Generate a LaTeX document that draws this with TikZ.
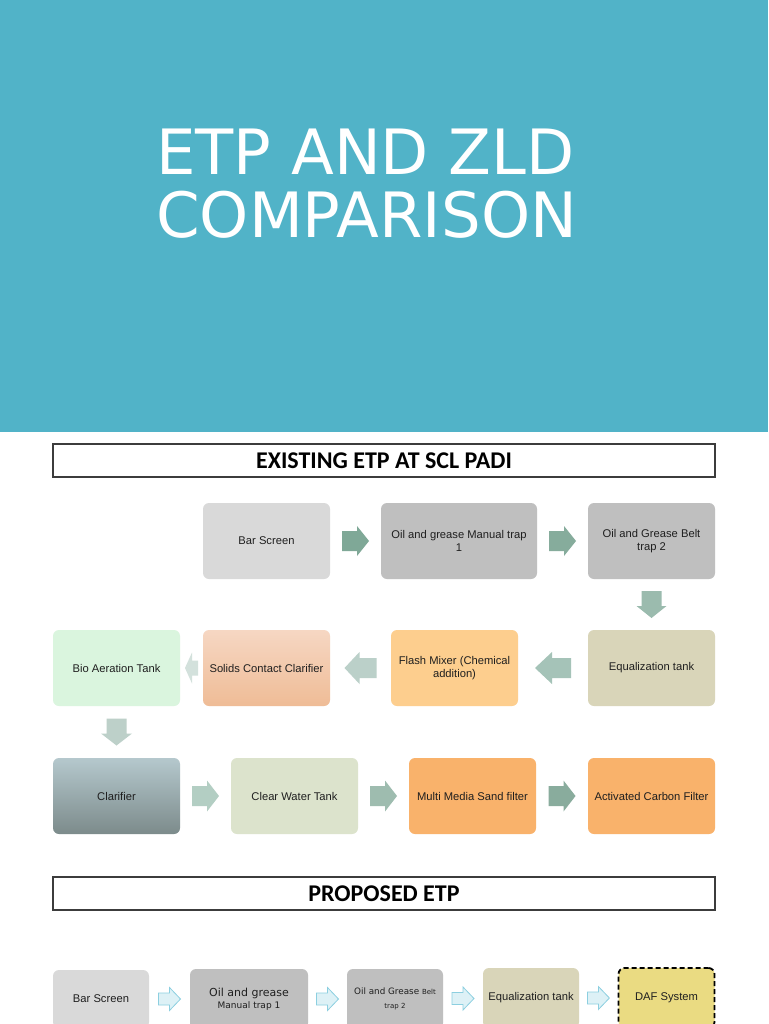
\documentclass[tikz,border=0pt]{standalone}
\usepackage{fontspec}
\setmainfont{Liberation Sans}
\newfontfamily\titlefont{DejaVu Sans}
\newfontfamily\headfont{Carlito}
\usetikzlibrary{calc}
\definecolor{teal1}{HTML}{51B3C8}
\definecolor{gA}{HTML}{D9D9D9}
\definecolor{gB}{HTML}{BFBFBF}
\definecolor{eqc}{HTML}{D9D5B9}
\definecolor{bioc}{HTML}{DAF5DE}
\definecolor{flashc}{HTML}{FDCE8E}
\definecolor{solT}{HTML}{F6D7C3}
\definecolor{solB}{HTML}{EFBC96}
\definecolor{clT}{HTML}{B5C8CD}
\definecolor{clB}{HTML}{7C8B8B}
\definecolor{clearc}{HTML}{DCE3CC}
\definecolor{orc}{HTML}{F9B26B}
\definecolor{dafc}{HTML}{EADB82}
\definecolor{aA}{HTML}{7FA897}
\definecolor{aB}{HTML}{86AC9C}
\definecolor{aC}{HTML}{9BBBAE}
\definecolor{aD}{HTML}{A5C3B8}
\definecolor{aE}{HTML}{BBD0C9}
\definecolor{aF}{HTML}{D3E1DC}
\definecolor{aG}{HTML}{BDD0C9}
\definecolor{aH}{HTML}{B3CEC3}
\definecolor{aI}{HTML}{9EBCAF}
\definecolor{aJ}{HTML}{89AC9D}
\definecolor{blueline}{HTML}{8CCFE0}
\definecolor{bluefill}{HTML}{DDF1F6}
\definecolor{hdline}{HTML}{3C3C3C}
\tikzset{
  box/.style={rounded corners=6pt, minimum height=76pt, minimum width=127pt, inner sep=2pt, align=center,
    font=\fontsize{11.2}{12.6}\selectfont, text=black!88},
  sbox/.style={box, minimum height=58pt, minimum width=96pt},
  headbox/.style={draw=hdline, line width=1.1pt, fill=white, minimum width=662pt, minimum height=33pt, inner sep=0pt,
    font=\headfont\bfseries\fontsize{24}{26}\selectfont},
  bluearrow/.style={draw=blueline, fill=bluefill, line width=0.8pt, line join=miter},
  titletext/.style={text=white, inner sep=0pt, anchor=base west, font=\titlefont\fontsize{62.5}{62}\selectfont}
}
% block arrow: #1 style, #2 centre, #3 angle, #4 half length, #5 half shaft, #6 half width, #7 head length
\newcommand{\blkarrow}[7]{%
  \begin{scope}[shift={#2}, rotate=#3]
    \path[#1] ({-#4*1pt},{-#5*1pt}) -- ({(#4-#7)*1pt},{-#5*1pt}) -- ({(#4-#7)*1pt},{-#6*1pt})
      -- ({#4*1pt},0pt) -- ({(#4-#7)*1pt},{#6*1pt}) -- ({(#4-#7)*1pt},{#5*1pt}) -- ({-#4*1pt},{#5*1pt}) -- cycle;
  \end{scope}}
\begin{document}
\begin{tikzpicture}[x=1pt,y=-1pt]
\clip (0,0) rectangle (768,1024);
\fill[white] (0,0) rectangle (768,1024);
\fill[teal1] (0,0) rectangle (768,432);
\node[titletext] (t1) at (156,175) {ETP AND ZLD};
\node[titletext] (t2) at (156,237) {COMPARISON};

\node[headbox] (h1) at (384,460.5) {EXISTING ETP AT SCL PADI};

% row 1
\node[box, fill=gA] (bs) at (266.5,541) {Bar Screen};
\node[box, fill=gB, minimum width=156pt] (og1) at (459,541) {Oil and grease Manual trap\\1};
\node[box, fill=gB] (ogb) at (651.5,541) {Oil and Grease Belt\\trap 2};
% row 2
\node[box, fill=bioc] (bio) at (116.5,668) {Bio Aeration Tank};
\node[box, top color=solT, bottom color=solB] (sol) at (266.5,668) {Solids Contact Clarifier};
\node[box, fill=flashc] (fm) at (454.5,668) {Flash Mixer (Chemical\\addition)};
\node[box, fill=eqc] (eq) at (651.5,668) {Equalization tank};
% row 3
\node[box, top color=clT, bottom color=clB] (cl) at (116.5,796) {Clarifier};
\node[box, fill=clearc] (cw) at (294.5,796) {Clear Water Tank};
\node[box, fill=orc] (mm) at (472.5,796) {Multi Media Sand filter};
\node[box, fill=orc] (ac) at (651.5,796) {Activated Carbon Filter};

% arrows existing
\blkarrow{fill=aA}{($(bs.east)!0.5!(og1.west)$)}{0}{13.5}{10}{15}{12}
\blkarrow{fill=aB}{($(og1.east)!0.5!(ogb.west)$)}{0}{13.5}{10}{15}{12}
\blkarrow{fill=aC}{($(ogb.south)!0.5!(eq.north)$)}{-90}{13.5}{10}{15}{12}
\blkarrow{fill=aD}{($(fm.east)!0.5!(eq.west)$)}{180}{18}{10}{16}{17}
\blkarrow{fill=aE}{($(sol.east)!0.5!(fm.west)$)}{180}{16}{10}{16}{15}
\blkarrow{fill=aF}{($(bio.east)!0.5!(sol.west)$)}{180}{6.5}{7.5}{15.5}{7}
\blkarrow{fill=aG}{($(bio.south)!0.5!(cl.north)$)}{-90}{13.5}{10}{15.5}{12}
\blkarrow{fill=aH}{($(cl.east)!0.5!(cw.west)$)}{0}{13.5}{10}{15.5}{12}
\blkarrow{fill=aI}{($(cw.east)!0.5!(mm.west)$)}{0}{13.5}{10}{15.5}{12}
\blkarrow{fill=aJ}{($(mm.east)!0.5!(ac.west)$)}{0}{13.5}{10}{15.5}{12}

\node[headbox] (h2) at (384,893.5) {PROPOSED ETP};

% row 4 proposed
\node[sbox, fill=gA] (pbs) at (101,999) {Bar Screen};
\node[sbox, fill=gB, minimum width=118pt, minimum height=60pt] (pog1) at (249,999)
  {{\titlefont\fontsize{11}{11}\selectfont Oil and grease}\\[-1pt]{\titlefont\fontsize{9}{10}\selectfont Manual trap 1}};
\node[sbox, fill=gB, minimum height=60pt] (pogb) at (395,999)
  {{\titlefont\fontsize{8.8}{10}\selectfont Oil and Grease {\fontsize{7}{8}\selectfont Belt}}\\[2pt]{\titlefont\fontsize{7}{8}\selectfont trap 2}};
\node[sbox, fill=eqc, minimum height=60pt] (peq) at (531,998) {Equalization tank};
\node[sbox, fill=dafc, draw=black, line width=1.8pt, dash pattern=on 5pt off 3pt, minimum height=60pt] (daf) at (666.5,998) {DAF System};

\blkarrow{bluearrow}{($(pbs.east)!0.5!(pog1.west)$)}{0}{11}{6}{11.5}{11}
\blkarrow{bluearrow}{($(pog1.east)!0.5!(pogb.west)$)}{0}{11}{6}{11.5}{11}
\blkarrow{bluearrow}{($(pogb.east)!0.5!(peq.west)$)}{0}{11}{6}{11.5}{11}
\blkarrow{bluearrow}{($(peq.east)!0.5!(daf.west)$)}{0}{11}{6}{11.5}{11}
\end{tikzpicture}
\end{document}
